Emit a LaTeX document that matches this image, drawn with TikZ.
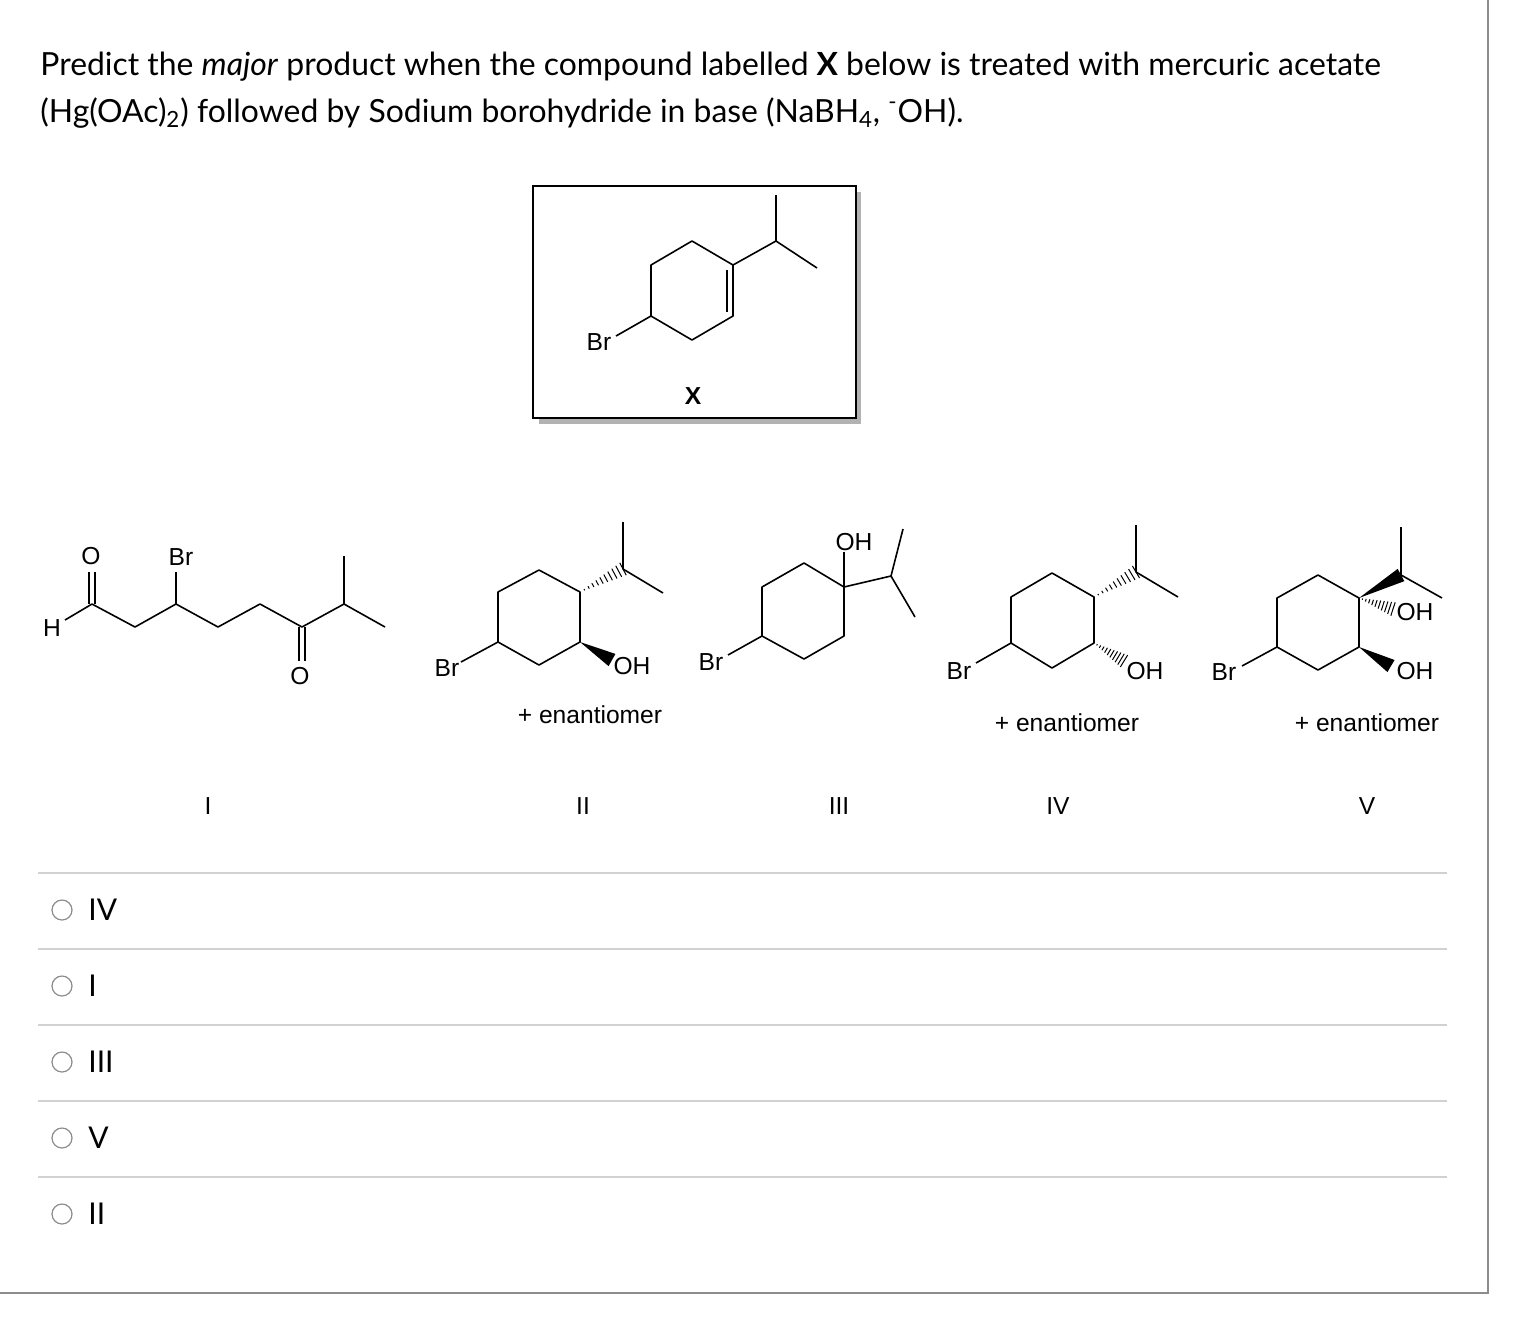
\documentclass[tikz,border=0pt]{standalone}
\usepackage{fontspec}
\setmainfont{Lato}
\newfontfamily\arial{Liberation Sans}
\usetikzlibrary{calc}
\tikzset{lbl/.style={font=\arial\fontsize{12.3}{14}\selectfont,inner sep=0pt},
 bond/.style={line width=0.8pt,line join=round},
 qtext/.style={font=\fontsize{15.95}{19}\selectfont,anchor=base west,inner sep=0pt},
 sep/.style={draw=black!18,line width=0.8pt},
 radio/.style={draw=black!45,line width=0.6pt}}
\newcommand\hashb[2]{\foreach \t in {0.1,0.2,...,1.0}{\draw[line width=0.5pt] ($(#1)!\t!(#2)!{\t*3.5pt}!90:(#2)$) -- ($(#1)!\t!(#2)!{\t*3.5pt}!-90:(#2)$);}}
\newcommand\wedgeb[2]{\fill (#1) -- ($(#2)!3.5pt!90:(#1)$) -- ($(#2)!3.5pt!-90:(#1)$) -- cycle;}
\begin{document}
\begin{tikzpicture}[x=0.5pt,y=-0.5pt]
\useasboundingbox[fill=white] (0,0) rectangle (1515,1319);
\draw[black!45,line width=1pt] (1488,0) -- (1488,1293) -- (0,1293);
\node[qtext] (q1) at (40,75) {Predict the \textit{major} product when the compound labelled \textbf{X} below is treated with mercuric acetate};
\node[qtext] (q2) at (40,122) {(Hg(OAc)\textsubscript{2}) followed by Sodium borohydride in base (NaBH\textsubscript{4}, \textsuperscript{-}OH).};
% box X
\fill[black!30] (539,192) rectangle (861,424);
\draw[fill=white,line width=0.9pt] (533,186) rectangle (856,418);
\draw[bond] (692,241) -- (733,265) -- (733,316) -- (692,340) -- (651,316) -- (651,265) -- cycle;
\draw[bond] (727,270) -- (727,312);
\draw[bond] (733,265) -- (776,241) -- (776,195) (776,241) -- (817,268);
\draw[bond] (651,316) -- (616,336);
\node[lbl] (brx) at (599,342) {Br};
\node[lbl,font=\arial\bfseries\fontsize{12.3}{14}\selectfont] (xl) at (693,396) {X};
% I
\draw[bond] (65,620) -- (92,604) -- (135,627) -- (176,604) -- (218,627) -- (260,604) -- (302,627) -- (344,604) -- (385,627);
\draw[bond] (344,604) -- (344,556);
\draw[bond] (176,604) -- (176,572);
\draw[bond] (89,604) -- (89,572) (95,604) -- (95,572);
\draw[bond] (299,627) -- (299,661) (305,627) -- (305,661);
\node[lbl] at (52,628) {H};
\node[lbl] at (91,556) {O};
\node[lbl] at (181,557) {Br};
\node[lbl] at (300,676) {O};
\node[lbl] at (208,806) {I};
% II
\draw[bond] (539,570) -- (580,592) -- (580,642) -- (539,665) -- (498,642) -- (498,592) -- cycle;
\coordinate (a2) at (580,592); \coordinate (b2) at (623,569);
\hashb{a2}{b2}
\draw[bond] (623,569) -- (623,522) (623,569) -- (663,593);
\coordinate (c2) at (580,642); \coordinate (d2) at (612,660);
\wedgeb{c2}{d2}
\draw[bond] (498,642) -- (461,662);
\node[lbl] at (447,668) {Br};
\node[lbl] at (632,666) {OH};
\node[lbl] at (590,715) {+ enantiomer};
\node[lbl] at (583,806) {II};
% III
\draw[bond] (804,563) -- (844,587) -- (844,636) -- (804,659) -- (762,636) -- (762,587) -- cycle;
\draw[bond] (844,587) -- (844,552);
\draw[bond] (844,587) -- (891,576) -- (903,529) (891,576) -- (915,617);
\draw[bond] (762,636) -- (728,655);
\node[lbl] at (711,662) {Br};
\node[lbl] at (854,542) {OH};
\node[lbl] at (839,806) {III};
% IV
\draw[bond] (1052,573) -- (1094,597) -- (1094,643) -- (1052,668) -- (1011,643) -- (1011,597) -- cycle;
\coordinate (a4) at (1094,597); \coordinate (b4) at (1136,572);
\hashb{a4}{b4}
\draw[bond] (1136,572) -- (1136,525) (1136,572) -- (1178,597);
\coordinate (c4) at (1094,643); \coordinate (d4) at (1124,661);
\hashb{c4}{d4}
\draw[bond] (1011,643) -- (976,663);
\node[lbl] at (959,671) {Br};
\node[lbl] at (1145,671) {OH};
\node[lbl] at (1067,723) {+ enantiomer};
\node[lbl] at (1058,806) {IV};
% V
\draw[bond] (1318,575) -- (1359,598) -- (1359,647) -- (1318,670) -- (1277,647) -- (1277,598) -- cycle;
\coordinate (a5) at (1359,598); \coordinate (b5) at (1401,575);
\wedgeb{a5}{b5}
\draw[bond] (1401,575) -- (1401,527) (1401,575) -- (1442,598);
\coordinate (c5) at (1393,609);
\hashb{a5}{c5}
\coordinate (e5) at (1359,647); \coordinate (f5) at (1391,666);
\wedgeb{e5}{f5}
\draw[bond] (1277,647) -- (1242,666);
\node[lbl] at (1224,672) {Br};
\node[lbl] at (1415,612) {OH};
\node[lbl] at (1415,671) {OH};
\node[lbl] at (1367,723) {+ enantiomer};
\node[lbl] at (1367,806) {V};
% options
\foreach \y in {873,949,1025,1101,1177} \draw[sep] (38,\y) -- (1447,\y);
\foreach \y/\t [count=\i] in {910/IV,986/I,1062/III,1138/V,1214/II}{
 \draw[radio] (62,\y) circle (10);
 \node[font=\fontsize{15}{18}\selectfont,anchor=west,inner sep=0pt] (o\i) at (88,\y) {\t};
}
\end{tikzpicture}
\end{document}
